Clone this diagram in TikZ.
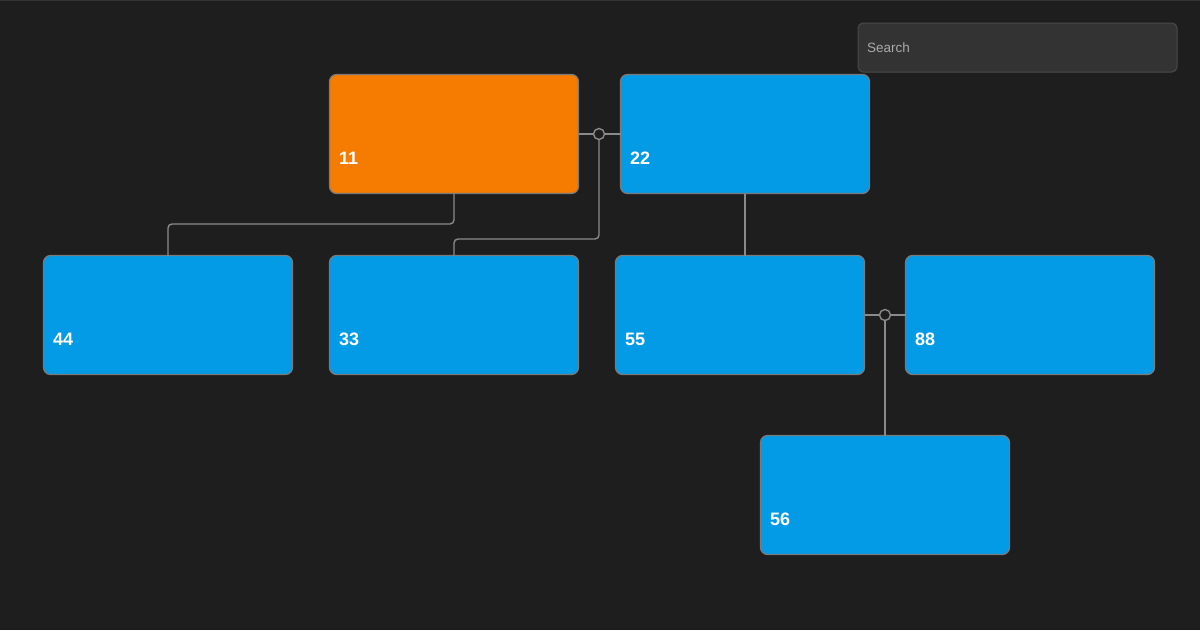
\documentclass[tikz,border=0pt]{standalone}
\usepackage{fontspec}
\setmainfont{Liberation Sans}
\begin{document}
\begin{tikzpicture}[x=1pt,y=-1pt,
  card/.style={minimum width=249pt,minimum height=119pt,inner sep=0pt,outer sep=0pt},
  cardshape/.style={draw=cardline,line width=1.2pt,rounded corners=7pt},
  lbl/.style={text=white,font=\bfseries\fontsize{18}{20}\selectfont,anchor=west,inner sep=0pt},
  conn/.style={draw=connline,line width=1.4pt,rounded corners=4pt},
  dot/.style={circle,draw=connline,line width=1.4pt,fill=bg,minimum size=11pt,inner sep=0pt}]
\definecolor{bg}{HTML}{1E1E1E}
\definecolor{cardorange}{HTML}{F57C00}
\definecolor{cardblue}{HTML}{039BE5}
\definecolor{cardline}{HTML}{7A7A7A}
\definecolor{connline}{HTML}{8A8A8A}
\definecolor{searchfill}{HTML}{333333}
\definecolor{searchline}{HTML}{4A4A4A}
\definecolor{searchtext}{HTML}{AAAAAA}
\definecolor{topline}{HTML}{333333}
\useasboundingbox (0,0) rectangle (1200,630);
\fill[bg] (0,0) rectangle (1200,630);
\draw[draw=topline,line width=1pt] (0,0.5) -- (1200,0.5);
% search box
\node[minimum width=319pt,minimum height=49pt,inner sep=0pt,outer sep=0pt] (search) at (1017.5,47.5) {};
\draw[draw=searchline,fill=searchfill,line width=1pt,rounded corners=5pt] (search.north west) -- (search.north east) -- (search.south east) -- (search.south west) -- cycle;
\node[text=searchtext,font=\fontsize{13.5}{15}\selectfont,anchor=west,inner sep=0pt] (searchlbl) at (867,48) {Search};
\coordinate (d1) at (599,134);
\coordinate (d2) at (885,315);
% cards (centres)
\node[card] (n11) at (454,134) {};
\node[card] (n22) at (745,134) {};
\node[card] (n44) at (168,315) {};
\node[card] (n33) at (454,315) {};
\node[card] (n55) at (740,315) {};
\node[card] (n88) at (1030,315) {};
\node[card] (n56) at (885,495) {};
\draw[cardshape,fill=cardorange] (n11.north west) -- (n11.north east) -- (n11.south east) -- (n11.south west) -- cycle;
\foreach \n in {n22,n44,n33,n55,n88,n56}
  \draw[cardshape,fill=cardblue] (\n.north west) -- (\n.north east) -- (\n.south east) -- (\n.south west) -- cycle;
% labels
\node[lbl] (l11) at (339,158) {11};
\node[lbl] (l22) at (630,158) {22};
\node[lbl] (l44) at (53,339) {44};
\node[lbl] (l33) at (339,339) {33};
\node[lbl] (l55) at (625,339) {55};
\node[lbl] (l88) at (915,339) {88};
\node[lbl] (l56) at (770,519) {56};
% connectors
\draw[conn] (n11.east) -- (n22.west);
\draw[conn] (n11.south) -- (n11.south |- 0,224) -- (n44.north |- 0,224) -- (n44.north);
\draw[conn] (d1) -- (d1 |- 0,239) -- (n33.north |- 0,239) -- (n33.north);
\draw[conn] (n22.south) -- (n22.south |- n55.north);
\draw[conn] (n55.east) -- (n88.west);
\draw[conn] (d2) -- (n56.north);
\node[dot] (c1) at (d1) {};
\node[dot] (c2) at (d2) {};
\end{tikzpicture}
\end{document}
